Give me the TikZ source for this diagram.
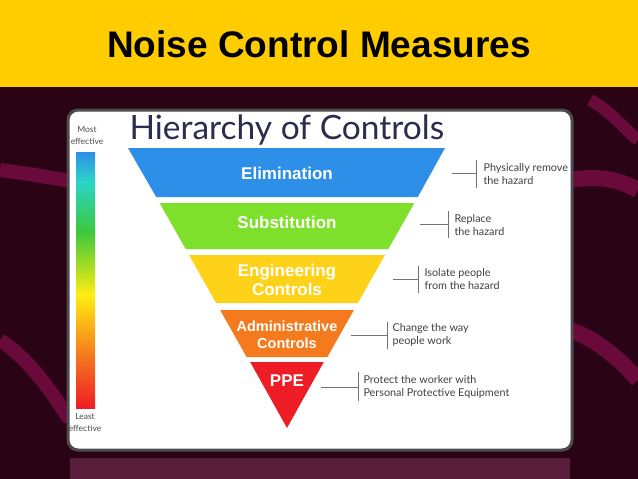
\documentclass[tikz,border=0pt]{standalone}
\usepackage{fontspec}
\setmainfont{Liberation Sans}
\newfontfamily\lato{Lato}
\begin{document}
\begin{tikzpicture}[x=1pt,y=-1pt,
  bandtxt/.style={text=white,font=\bfseries\fontsize{17}{19}\selectfont,align=center},
  note/.style={anchor=west,align=left,text=black!75,font=\lato\fontsize{10.8}{13.5}\selectfont},
  tick/.style={draw=black!55,line width=0.6pt}]
\definecolor{bg}{HTML}{2A0414}
\definecolor{swoosh}{HTML}{6A0A3A}
\definecolor{hdr}{HTML}{FFCC00}
\definecolor{cBlue}{HTML}{2E8FE8}
\definecolor{cCyan}{HTML}{2BD5C8}
\definecolor{cGreen}{HTML}{7EE02A}
\definecolor{cGreen2}{HTML}{3CC83C}
\definecolor{cYellow}{HTML}{FFD21A}
\definecolor{cYel2}{HTML}{FFEE10}
\definecolor{cOrange}{HTML}{F57A1E}
\definecolor{cRed}{HTML}{EE1C24}
\definecolor{navy}{HTML}{2B2D4F}
\useasboundingbox (0,0) rectangle (638,479);
\fill[bg] (0,0) rectangle (638,479);
% swooshes
\draw[swoosh,line width=14pt] (0,170) .. controls (40,175) and (60,180) .. (80,182);
\draw[swoosh,line width=14pt] (0,340) .. controls (30,360) and (50,390) .. (70,420);
\draw[swoosh,line width=16pt] (570,180) .. controls (600,175) and (620,180) .. (638,190);
\draw[swoosh,line width=16pt] (570,330) .. controls (600,340) and (625,365) .. (638,380);
\draw[swoosh,line width=12pt] (590,100) .. controls (610,110) and (625,130) .. (638,140);
% reflection
\fill[swoosh!80!white,opacity=0.5] (70,458) rectangle (570,479);
% header
\fill[hdr] (0,0) rectangle (638,87);
\node (title) at (319,44) {\bfseries\fontsize{37}{40}\selectfont Noise Control Measures};
% panel
\draw[fill=white,draw=black!70,line width=3pt,rounded corners=10pt] (68,110) rectangle (572,450);
\node[text=navy,anchor=base west] (hoc) at (126,139) {\lato\fontsize{33.5}{35}\selectfont Hierarchy of Controls};
% gradient bar
\shade[top color=cBlue,bottom color=cCyan] (76,152) rectangle (95,182);
\shade[top color=cCyan,bottom color=cGreen2] (76,181.5) rectangle (95,232);
\shade[top color=cGreen2,bottom color=cYel2] (76,231.5) rectangle (95,295);
\shade[top color=cYel2,bottom color=cOrange] (76,294.5) rectangle (95,355);
\shade[top color=cOrange,bottom color=cRed] (76,354.5) rectangle (95,408);
\node[text=black!70,align=center,font=\lato\fontsize{8.5}{12}\selectfont] (most) at (87,135) {Most\\effective};
\node[text=black!70,align=center,font=\lato\fontsize{8.5}{12}\selectfont] (least) at (85,422) {Least\\effective};
% bands
\fill[cBlue]   (128,148) -- (445,148) -- (417.8,197) -- (156.2,197) -- cycle;
\fill[cGreen]  (159.6,203) -- (414.4,203) -- (388.3,249) -- (185.7,249) -- cycle;
\fill[cYellow] (189,255) -- (385,255) -- (357.9,303) -- (216.1,303) -- cycle;
\fill[cOrange] (220.1,310) -- (353.9,310) -- (327.4,357) -- (246.6,357) -- cycle;
\fill[cRed]    (250.2,362) -- (323.8,362) -- (287,428) -- cycle;
\node[bandtxt] (elim) at (287,173) {Elimination};
\node[bandtxt] (subs) at (287,222) {Substitution};
\node[bandtxt] (eng) at (287,280) {Engineering\\Controls};
\node[bandtxt,font=\bfseries\fontsize{14.5}{17}\selectfont] (adm) at (287,335) {Administrative\\Controls};
\node[bandtxt] (ppe) at (287,381) {PPE};
% notes
\begin{scope}
\clip (68,110) rectangle (570,450);
\coordinate (e1) at (452,173); \coordinate (e2) at (476,173);
\draw[tick] (e1) -- (e2); \draw[tick] (476,160) -- (476,188);
\node[note] (en) at (480,174) {Physically remove\\the hazard};
\end{scope}
\coordinate (s1) at (420,224); \coordinate (s2) at (448,224);
\draw[tick] (s1) -- (s2); \draw[tick] (448,211) -- (448,238);
\node[note] (sn) at (451,225) {Replace\\the hazard};
\coordinate (g1) at (393,279); \coordinate (g2) at (418,279);
\draw[tick] (g1) -- (g2); \draw[tick] (418,266) -- (418,293);
\node[note] (gn) at (421,279) {Isolate people\\from the hazard};
\coordinate (a1) at (351,335); \coordinate (a2) at (387,335);
\draw[tick] (a1) -- (a2); \draw[tick] (387,322) -- (387,349);
\node[note] (an) at (389,335) {Change the way\\people work};
\coordinate (p1) at (321,387); \coordinate (p2) at (358,387);
\draw[tick] (p1) -- (p2); \draw[tick] (358,372) -- (358,401);
\node[note] (pn) at (360,387) {Protect the worker with\\Personal Protective Equipment};
\end{tikzpicture}
\end{document}
